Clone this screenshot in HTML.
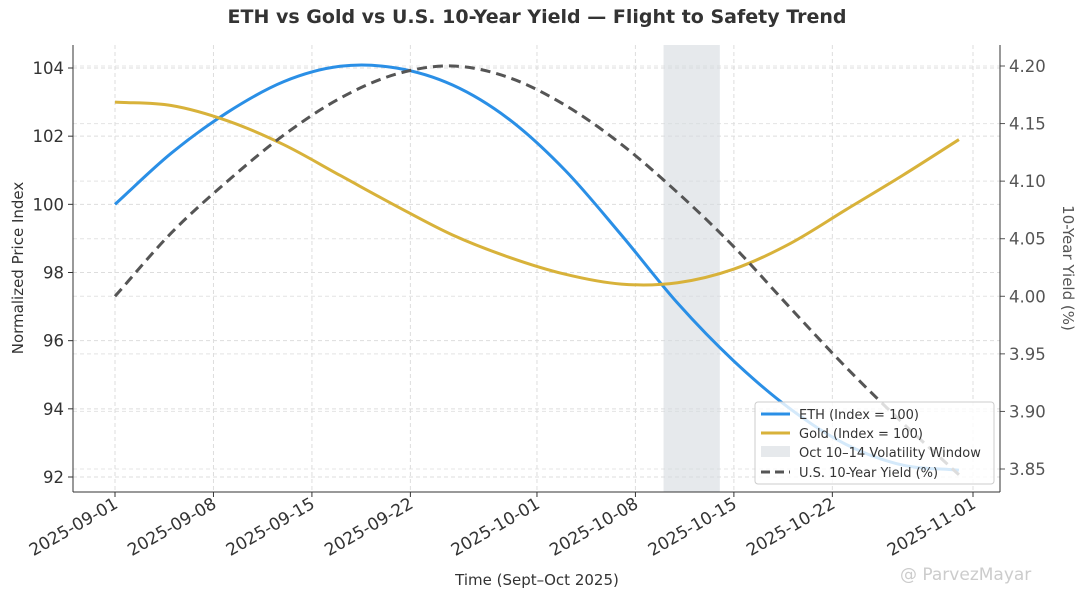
<!DOCTYPE html>
<html><head><meta charset="utf-8"><style>
body{margin:0;background:#fff;font-family:"Liberation Sans","DejaVu Sans",sans-serif}
svg text{font-family:"DejaVu Sans","Liberation Sans",sans-serif}
</style></head><body>
<svg id="chart" width="1080" height="598" viewBox="0 0 1080 598">
<text x="537" y="23" text-anchor="middle" font-size="19" font-weight="bold" fill="#333">ETH vs Gold vs U.S. 10-Year Yield — Flight to Safety Trend</text>
<g id="grid"></g><g id="shade"></g><g id="series"></g><g id="axes"></g>
<text x="537" y="585" text-anchor="middle" font-size="15" fill="#333">Time (Sept–Oct 2025)</text>
<text transform="translate(23,268) rotate(-90)" text-anchor="middle" font-size="15" fill="#333">Normalized Price Index</text>
<text transform="translate(1063,268) rotate(90)" text-anchor="middle" font-size="15" fill="#555">10-Year Yield (%)</text>
<g>
<rect x="755" y="402" width="239" height="82" fill="#fff" fill-opacity="0.8" stroke="#ccc" rx="3"/>
<line x1="761" y1="414" x2="790" y2="414" stroke="#2a8fe6" stroke-width="3"/>
<text x="799" y="419" font-size="13" fill="#333">ETH (Index = 100)</text>
<line x1="761" y1="433" x2="790" y2="433" stroke="#d8b23a" stroke-width="3"/>
<text x="799" y="438" font-size="13" fill="#333">Gold (Index = 100)</text>
<rect x="761" y="446" width="29" height="11" fill="#d5dae0" opacity="0.6"/>
<text x="799" y="457" font-size="13" fill="#333">Oct 10–14 Volatility Window</text>
<line x1="761" y1="472" x2="790" y2="472" stroke="#555" stroke-width="3" stroke-dasharray="9,5"/>
<text x="799" y="477" font-size="13" fill="#333">U.S. 10-Year Yield (%)</text>
</g>
<text x="900" y="580" font-size="17" fill="#ccc">@ ParvezMayar</text>
</svg>
<script>
const days=[0,4,8,12,16,20,24,28,32,36,40,44,48,52,56,60];
const ethVals=[100,101.5,102.7,103.6,104.05,104.0,103.5,102.5,101.0,99.1,97.1,95.4,94.0,92.95,92.35,92.2];
const goldVals=[103,102.9,102.45,101.75,100.85,99.95,99.1,98.45,97.95,97.66,97.7,98.1,98.85,99.85,100.85,101.9];
const yVals=[4.00,4.055,4.10,4.14,4.172,4.193,4.20,4.19,4.166,4.132,4.09,4.043,3.99,3.938,3.89,3.845];
const leftTicks=[92,94,96,98,100,102,104];
const rightTicks=[3.85,3.90,3.95,4.00,4.05,4.10,4.15,4.20];
const xTickDays=[0,7,14,21,30,37,44,51,61];
const xTickLabels=["2025-09-01","2025-09-08","2025-09-15","2025-09-22","2025-10-01","2025-10-08","2025-10-15","2025-10-22","2025-11-01"];
const shadeDays=[39,43];
const NS="http://www.w3.org/2000/svg";
const L=73,R=1000,T=45,B=492;
const xs=d=>115+d*(858/61);
const yl=v=>477-(v-92)*(409/12);
const yr=v=>469-(v-3.85)*(403/0.35);
function el(tag,attrs,parent){const e=document.createElementNS(NS,tag);for(const k in attrs)e.setAttribute(k,attrs[k]);parent.appendChild(e);return e;}
const grid=document.getElementById('grid'),axes=document.getElementById('axes'),ser=document.getElementById('series'),shade=document.getElementById('shade');
leftTicks.forEach(v=>{const l=el('line',{x1:L,x2:R,y1:yl(v),y2:yl(v),stroke:'#ddd','stroke-dasharray':'4,3'},grid);


el('line',{x1:L-5,x2:L,y1:yl(v),y2:yl(v),stroke:'#333'},axes);
const t=el('text',{x:L-9,y:yl(v)+6,'text-anchor':'end','font-size':16.5,fill:'#333'},axes);t.textContent=v;

});
rightTicks.forEach(v=>{const l=el('line',{x1:L,x2:R,y1:yr(v),y2:yr(v),stroke:'#e4e4e4','stroke-dasharray':'4,3'},grid);


el('line',{x1:R,x2:R+5,y1:yr(v),y2:yr(v),stroke:'#555'},axes);
const t=el('text',{x:R+9,y:yr(v)+6,'font-size':16.5,fill:'#555'},axes);t.textContent=v.toFixed(2);

});
xTickDays.forEach((d,i)=>{const x=xs(d);const l=el('line',{x1:x,x2:x,y1:T,y2:B,stroke:'#ddd','stroke-dasharray':'4,3'},grid);


el('line',{x1:x,x2:x,y1:B,y2:B+5,stroke:'#333'},axes);
const t=el('text',{transform:`translate(${x+4},${B+15}) rotate(-30)`,'text-anchor':'end','font-size':17,fill:'#333'},axes);t.textContent=xTickLabels[i];

});
el('line',{x1:L,x2:L,y1:T,y2:B,stroke:'#333'},axes);
el('line',{x1:L,x2:R,y1:B,y2:B,stroke:'#333'},axes);
el('line',{x1:R,x2:R,y1:T,y2:B,stroke:'#333'},axes);
const sh=el('rect',{x:xs(shadeDays[0]),y:T,width:xs(shadeDays[1])-xs(shadeDays[0]),height:B-T,fill:'#d5dae0',opacity:0.6},shade);


function smooth(pts){const n=pts.length,m=[];
for(let i=0;i<n;i++){const a=pts[Math.max(0,i-1)],b=pts[Math.min(n-1,i+1)];m.push((b[1]-a[1])/(b[0]-a[0]));}
let d=`M${pts[0][0]},${pts[0][1]}`;
for(let i=0;i<n-1;i++){const p=pts[i],q=pts[i+1],h=(q[0]-p[0])/3;
d+=` C${p[0]+h},${p[1]+m[i]*h} ${q[0]-h},${q[1]-m[i+1]*h} ${q[0]},${q[1]}`;}return d;}
const eth=el('path',{d:smooth(days.map((d,i)=>[xs(d),yl(ethVals[i])])),fill:'none',stroke:'#2a8fe6','stroke-width':3},ser);


const gold=el('path',{d:smooth(days.map((d,i)=>[xs(d),yl(goldVals[i])])),fill:'none',stroke:'#d8b23a','stroke-width':3},ser);


const yl10=el('path',{d:smooth(days.map((d,i)=>[xs(d),yr(yVals[i])])),fill:'none',stroke:'#555','stroke-width':3,'stroke-dasharray':'10,6'},ser);


</script>
</body></html>
